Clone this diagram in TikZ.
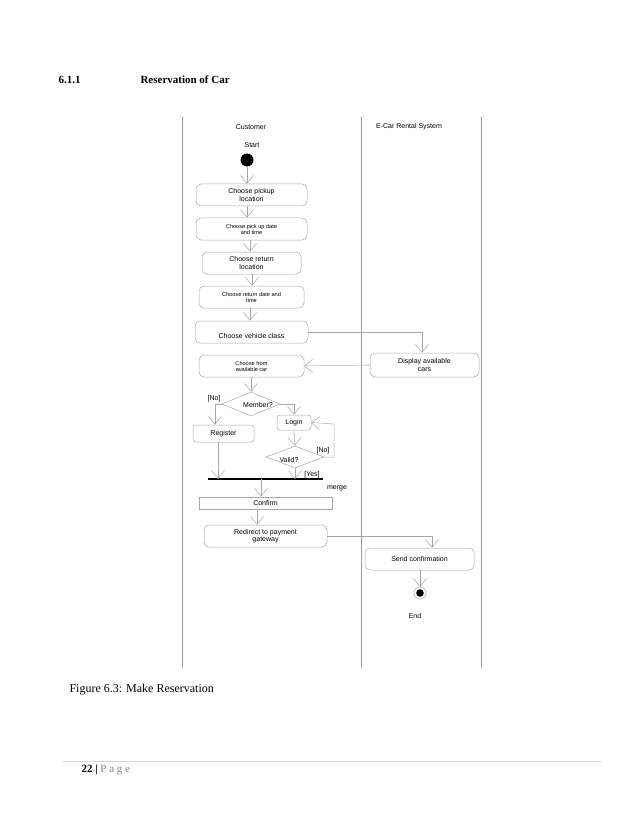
\documentclass[tikz,border=0pt]{standalone}
\usepackage{fontspec}
\setmainfont{Liberation Serif}
\newfontfamily\dsans{Liberation Sans}
\usetikzlibrary{arrows.meta,shapes.geometric}
\begin{document}
\begin{tikzpicture}[x=1pt,y=-1pt,
  lane/.style={draw=gray!80,line width=0.6pt},
  act/.style={draw=gray!70,rounded corners=5pt,line width=0.5pt,inner sep=1pt,align=center,font=\dsans\fontsize{7}{7.5}\selectfont},
  sm/.style={font=\dsans\fontsize{5.6}{6}\selectfont},
  lbl/.style={font=\dsans\fontsize{7}{8}\selectfont,inner sep=0pt},
  flow/.style={draw=gray!70,line width=0.5pt,-{Straight Barb[length=8pt,width=13pt]}},
  dia/.style={draw=gray!70,diamond,aspect=2,inner sep=0pt,line width=0.5pt}]
\useasboundingbox (0,0) rectangle (638,826);
\node[anchor=west,font=\bfseries\fontsize{11}{12}\selectfont] (h1) at (55,80) {6.1.1};
\node[anchor=west,font=\bfseries\fontsize{11}{12}\selectfont] (h2) at (137,80) {Reservation of Car};
\draw[lane] (182,117) -- (182,668);
\draw[lane] (361,117) -- (361,668);
\draw[lane] (481,117) -- (481,668);
\node[lbl] (cu) at (251,127) {Customer};
\node[lbl] (ec) at (409,127) {E-Car Rental System};
\node[lbl] (st) at (252,145) {Start};
\fill (247,160) circle (6.5pt) coordinate (s0);
\node[act,minimum width=111pt,minimum height=22pt] (b1) at (251.5,195) {Choose pickup\\ location};
\node[act,sm,minimum width=111pt,minimum height=22pt] (b2) at (251.5,229) {Choose pick up date\\ and time};
\node[act,minimum width=99pt,minimum height=22pt] (b3) at (251.5,263) {Choose return\\ location};
\node[act,sm,minimum width=105pt,minimum height=22pt] (b4) at (251.5,297) {Choose return date and\\ time};
\node[act,minimum width=113pt,minimum height=22pt,text height=14pt] (b5) at (251.5,332) {Choose vehicle class};
\node[act,sm,minimum width=105pt,minimum height=22pt] (b6) at (251.5,366) {Choose from\\ available car};
\node[act,minimum width=109pt,minimum height=24pt] (da) at (424.5,365) {Display available\\ cars};
\node[dia,minimum width=58pt,minimum height=24pt] (mem) at (251,404) {};
\node[lbl] at (258,405) {Member?};
\node[act,minimum width=34pt,minimum height=15pt,rounded corners=3pt] (lg) at (294,422.5) {\raisebox{-4pt}{Login}};
\node[act,minimum width=61pt,minimum height=17pt,rounded corners=3pt] (rg) at (223.5,433.5) {\raisebox{-3pt}{Register}};
\node[dia,minimum width=58pt,minimum height=22pt] (va) at (295,457) {};
\node[lbl] at (289,460) {Valid?};
\draw[line width=2.2pt] (208,479) -- (323,479);
\node[lbl] (ml) at (337,488) {merge};
\node[draw=gray!70,line width=0.5pt,minimum width=133pt,minimum height=12pt,inner sep=0pt,font=\dsans\fontsize{7}{8}\selectfont] (cf) at (265.5,503) {\raisebox{-3pt}{Confirm}};
\node[act,minimum width=123pt,minimum height=22pt] (rd) at (265.5,536) {Redirect to payment\\ gateway};
\node[act,minimum width=109pt,minimum height=22pt] (sc) at (419.5,559) {Send confirmation};
\draw[gray!70,line width=0.5pt] (420,593) circle (6pt);
\fill (420,593) circle (3.8pt);
\coordinate (en) at (420,587);
\node[lbl] (el) at (415,616) {End};
\node[lbl] (n1) at (214,399) {[No]};
\node[lbl] (n2) at (323,451) {[No]};
\node[lbl] (y1) at (312,475) {[Yes]};
% flows
\draw[flow] (s0) ++(0,6.5) -- (b1.north -| 247,0);
\draw[flow] (b1.south -| 247,0) -- (b2.north -| 247,0);
\draw[flow] (b2.south -| 250,0) -- (b3.north -| 250,0);
\draw[flow] (b3.south -| 252,0) -- (b4.north -| 252,0);
\draw[flow] (b4.south -| 250,0) -- (b5.north -| 250,0);
\draw[flow] (b5.east) -- (422,332) -- (da.north -| 422,0);
\draw[flow] (da.west) -- (b6.east);
\draw[flow] (b6.south -| 251,0) -- (mem.north);
\draw[flow] (mem.west) -- (215,404) -- (rg.north -| 215,0);
\draw[flow] (mem.east) -- (294,404) -- (lg.north);
\draw[flow] (lg.south) -- (va.north);
\draw[flow] (va.east) -- (334,457) -- (334,424) -- (lg.east);
\draw[flow] (va.south) -- (295,479);
\draw[flow] (rg.south -| 218,0) -- (218,479);
\draw[flow] (261,479) -- (cf.north -| 261,0);
\draw[flow] (cf.south -| 257,0) -- (rd.north -| 257,0);
\draw[flow] (rd.east) -- (432,536) -- (sc.north -| 432,0);
\draw[flow] (sc.south -| 420,0) -- (en);
\node[anchor=west,font=\fontsize{12}{14}\selectfont] (cap) at (66,690) {Figure 6.3: Make Reservation};
\draw[gray!30,line width=0.4pt] (62,761) -- (602,761);
\node[anchor=west,font=\fontsize{11}{12}\selectfont] (ft) at (78,770) {\textbf{22 |} \textcolor{gray}{P a g e}};
\end{tikzpicture}
\end{document}
